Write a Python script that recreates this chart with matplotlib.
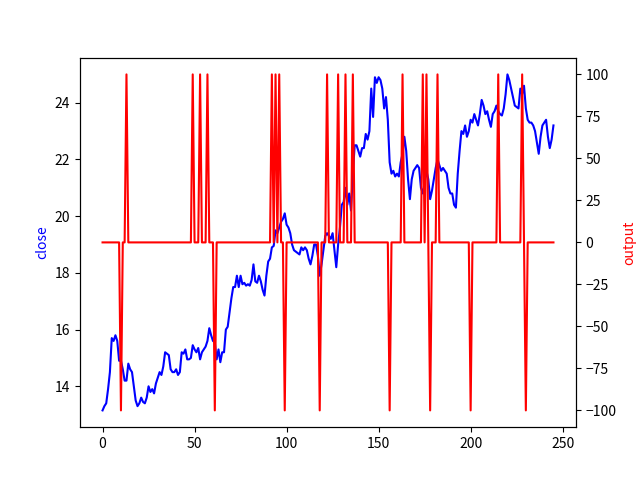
import matplotlib
matplotlib.use("Agg")
import matplotlib.pyplot as plt
import numpy as np

close = [13.15,13.3,13.4,13.9,14.5,15.7,15.6,15.8,15.6,14.9,14.9,14.6,14.2,14.2,14.8,14.6,14.5,14.0,13.5,13.3,
13.4,13.6,13.45,13.4,13.6,14.0,13.8,13.9,13.75,14.1,14.3,14.5,14.4,14.7,15.2,15.15,15.1,14.6,14.5,14.5,
14.6,14.4,14.5,15.2,15.15,15.3,14.95,14.95,15.0,15.45,15.3,15.2,15.35,14.95,15.2,15.3,15.4,15.6,16.05,15.8,
15.6,15.55,14.95,15.3,14.85,15.2,15.2,16.0,16.1,16.6,17.1,17.5,17.5,17.9,17.5,17.9,17.6,17.65,17.55,17.6,
17.55,17.75,18.3,17.7,17.65,17.9,17.7,17.4,17.2,17.9,18.4,18.5,18.9,18.95,19.5,19.4,19.6,19.8,19.9,20.1,
19.7,19.6,19.4,19.0,18.8,18.75,18.7,18.65,18.9,18.8,18.9,18.8,18.5,18.3,18.6,19.0,19.0,18.6,17.9,18.3,
18.8,19.3,19.4,19.3,19.2,19.4,18.8,18.2,19.0,19.6,20.4,20.5,21.0,20.4,20.8,20.2,21.5,22.5,22.5,22.3,
22.1,22.4,22.4,22.9,22.7,23.0,24.5,23.5,24.9,24.7,24.9,24.8,24.5,23.8,24.2,23.4,21.9,21.5,21.6,21.4,
21.5,21.4,21.9,22.2,22.8,22.3,21.3,20.6,21.3,21.6,21.7,21.8,21.7,21.0,20.8,21.2,21.6,21.3,20.6,20.9,
21.3,21.7,22.0,21.8,21.6,21.7,21.6,21.5,21.0,20.8,20.8,20.4,20.3,21.5,22.3,23.0,22.9,23.2,22.8,23.0,
23.4,23.3,23.6,23.4,23.2,23.6,24.1,23.9,23.6,23.7,23.4,23.15,23.6,23.7,23.9,23.7,23.6,23.55,23.8,24.3,
25.0,24.8,24.5,24.2,23.9,23.85,23.8,24.5,24.3,24.6,23.8,23.4,23.3,23.3,23.2,23.0,22.6,22.2,22.8,23.2,
23.3,23.4,22.8,22.4,22.7,23.2]

up_idx = [13,49,53,57,92,94,96,122,128,132,136,163,174,176,182,215,228]
down_idx = [10,61,99,118,156,178,200,230]

n = len(close)
output = np.zeros(n)
output[up_idx] = 100
output[down_idx] = -100

plt.rcParams['font.family'] = ['SimHei', 'Noto Sans CJK SC', 'DejaVu Sans']
fig, ax = plt.subplots(figsize=(6.4, 4.8), dpi=100)
ax.plot(range(n), close, color='blue')
ax.set_ylabel('close', color='blue')
ax2 = ax.twinx()
ax2.plot(range(n), output, color='red')
ax2.set_ylabel('output', color='red')
fig.savefig('out.png')
